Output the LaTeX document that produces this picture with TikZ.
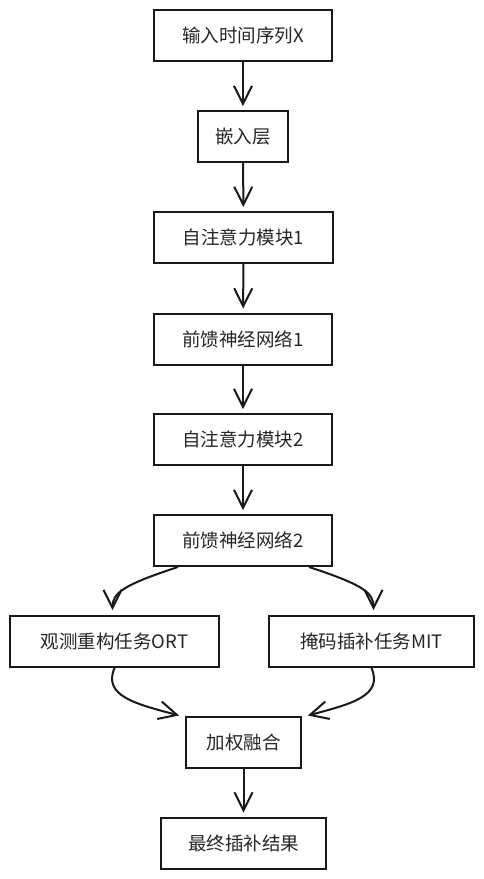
\documentclass[tikz,border=0pt]{standalone}
\usepackage{fontspec}
\newfontfamily\cjk{Noto Sans CJK SC}
\usetikzlibrary{arrows.meta}
\begin{document}
\begin{tikzpicture}[x=1pt,y=-1pt,
  box/.style={draw=black!90,line width=2pt,inner sep=0pt,minimum height=51pt,font=\cjk\fontsize{18.5}{20}\selectfont,text=black!85},
  arr/.style={draw=black!90,line width=2pt,-{Straight Barb[length=18pt,width=18pt,line width=2pt]},shorten >=4pt}]
\useasboundingbox (0,0) rectangle (484,879);
\fill[white] (0,0) rectangle (484,879);
\node[box,minimum width=178pt] (in) at (243,35) {输入时间序列X};
\node[box,minimum width=90pt] (emb) at (243,136.5) {嵌入层};
\node[box,minimum width=179pt] (sa1) at (243.5,237.5) {自注意力模块1};
\node[box,minimum width=178pt] (ff1) at (243,339) {前馈神经网络1};
\node[box,minimum width=178pt] (sa2) at (243,439.5) {自注意力模块2};
\node[box,minimum width=178pt] (ff2) at (243,540.5) {前馈神经网络2};
\node[box,minimum width=209pt] (ort) at (114.5,641.5) {观测重构任务ORT};
\node[box,minimum width=205pt] (mit) at (371.5,641.5) {掩码插补任务MIT};
\node[box,minimum width=115pt] (fus) at (243.5,742.5) {加权融合};
\node[box,minimum width=165pt] (res) at (243.5,843) {最终插补结果};
\draw[arr] (in) -- (emb);
\draw[arr] (emb) -- (sa1);
\draw[arr] (sa1) -- (ff1);
\draw[arr] (ff1) -- (sa2);
\draw[arr] (sa2) -- (ff2);
\draw[arr,shorten >=5pt] ([xshift=-65pt]ff2.south) .. controls +(-55,18) and +(0,-22) .. ([xshift=-2pt]ort.north);
\draw[arr,shorten >=5pt] ([xshift=66pt]ff2.south) .. controls +(55,18) and +(0,-22) .. ([xshift=2pt]mit.north);
\draw[arr,shorten >=2pt] (ort.south) .. controls +(-12,28) and +(-45,-12) .. ([xshift=-4pt]fus.north west);
\draw[arr,shorten >=2pt] (mit.south) .. controls +(12,28) and +(45,-12) .. ([xshift=4pt]fus.north east);
\draw[arr] (fus) -- (res);
\end{tikzpicture}
\end{document}
